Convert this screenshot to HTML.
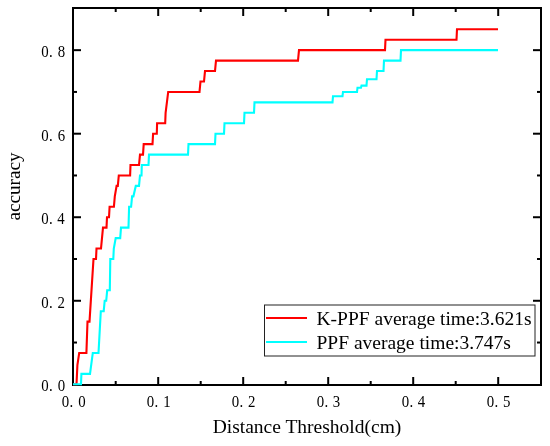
<!DOCTYPE html>
<html><head><meta charset="utf-8"><style>
html,body{margin:0;padding:0;background:#fff;}
svg{display:block;}
.t{font-family:"Liberation Serif",serif;}
</style></head><body>
<svg width="550" height="446" viewBox="0 0 550 446">
<rect x="0" y="0" width="550" height="446" fill="#fff"/>
<g stroke="#000" stroke-width="2" fill="none">
<rect x="73" y="8" width="468" height="377"/>
<line x1="158.20" y1="385.00" x2="158.20" y2="377.00"/><line x1="158.20" y1="8.00" x2="158.20" y2="16.00"/><line x1="243.20" y1="385.00" x2="243.20" y2="377.00"/><line x1="243.20" y1="8.00" x2="243.20" y2="16.00"/><line x1="328.20" y1="385.00" x2="328.20" y2="377.00"/><line x1="328.20" y1="8.00" x2="328.20" y2="16.00"/><line x1="413.20" y1="385.00" x2="413.20" y2="377.00"/><line x1="413.20" y1="8.00" x2="413.20" y2="16.00"/><line x1="498.20" y1="385.00" x2="498.20" y2="377.00"/><line x1="498.20" y1="8.00" x2="498.20" y2="16.00"/><line x1="115.70" y1="385.00" x2="115.70" y2="381.00"/><line x1="115.70" y1="8.00" x2="115.70" y2="12.00"/><line x1="200.70" y1="385.00" x2="200.70" y2="381.00"/><line x1="200.70" y1="8.00" x2="200.70" y2="12.00"/><line x1="285.70" y1="385.00" x2="285.70" y2="381.00"/><line x1="285.70" y1="8.00" x2="285.70" y2="12.00"/><line x1="370.70" y1="385.00" x2="370.70" y2="381.00"/><line x1="370.70" y1="8.00" x2="370.70" y2="12.00"/><line x1="455.70" y1="385.00" x2="455.70" y2="381.00"/><line x1="455.70" y1="8.00" x2="455.70" y2="12.00"/><line x1="73.00" y1="300.77" x2="81.00" y2="300.77"/><line x1="541.00" y1="300.77" x2="533.00" y2="300.77"/><line x1="73.00" y1="217.23" x2="81.00" y2="217.23"/><line x1="541.00" y1="217.23" x2="533.00" y2="217.23"/><line x1="73.00" y1="133.70" x2="81.00" y2="133.70"/><line x1="541.00" y1="133.70" x2="533.00" y2="133.70"/><line x1="73.00" y1="50.16" x2="81.00" y2="50.16"/><line x1="541.00" y1="50.16" x2="533.00" y2="50.16"/><line x1="73.00" y1="342.53" x2="77.00" y2="342.53"/><line x1="541.00" y1="342.53" x2="537.00" y2="342.53"/><line x1="73.00" y1="259.00" x2="77.00" y2="259.00"/><line x1="541.00" y1="259.00" x2="537.00" y2="259.00"/><line x1="73.00" y1="175.47" x2="77.00" y2="175.47"/><line x1="541.00" y1="175.47" x2="537.00" y2="175.47"/><line x1="73.00" y1="91.93" x2="77.00" y2="91.93"/><line x1="541.00" y1="91.93" x2="537.00" y2="91.93"/>
</g>
<polyline points="73,384.3 76.5,384.3 77.4,365.2 79.2,352.97 86.4,352.97 87.5,321.65 89.5,321.65 93.5,259 96,259 96.5,248.56 101,248.56 103,227.67 106.5,227.67 107,217.23 109,217.23 109.6,206.79 113.9,206.79 114.8,196.35 116.6,185.91 117.8,185.91 118.8,175.47 130.1,175.47 130.5,165.02 139,165.02 140,154.58 143,154.58 143.7,144.14 152.5,144.14 153.1,133.7 156.8,133.7 157.1,123.26 165.2,123.26 165.6,112.81 168.2,91.93 199.5,91.93 200.5,81.49 204,81.49 205,71.05 215,71.05 216,60.61 298,60.61 299,50.16 385,50.16 385.5,39.72 456.5,39.72 457,29.28 498,29.28" fill="none" stroke="#ff0000" stroke-width="2.1" stroke-linejoin="miter"/>
<polyline points="73,384.3 81,384.3 81.4,373.86 90,373.86 92.8,352.97 98.5,352.97 100.8,311.21 103.7,311.21 104.7,300.77 106.2,300.77 107.2,290.32 109.8,290.32 110.3,259 113.3,259 113.8,248.56 115.7,238.12 120.2,238.12 121,227.67 128.5,227.67 129.1,206.79 131.1,206.79 132.1,196.35 133.4,196.35 135.8,185.91 139,185.91 140,175.47 141.5,175.47 141.8,165.02 148.5,165.02 149,154.58 188,154.58 188.5,144.14 215,144.14 215.5,133.7 224,133.7 224.5,123.26 244,123.26 244.5,112.81 254,112.81 254.5,102.37 332.5,102.37 333,96.2 342.5,96.2 343,91.93 357,91.93 357.5,87.7 361,87.7 361.5,85.6 366.5,85.6 367,79.2 376.5,79.2 377,71.05 383.5,71.05 384,60.61 400.5,60.61 401,50.16 498,50.16" fill="none" stroke="#00ffff" stroke-width="2.1" stroke-linejoin="miter"/>
<g font-family="Liberation Serif, serif" font-size="16.5" fill="#000"><text transform="matrix(0.9,0,0,1,0,0)" x="68.58 77.34 86.92" y="406.70">0.0</text><text transform="matrix(0.9,0,0,1,0,0)" x="163.03 171.79 181.33" y="406.70">0.1</text><text transform="matrix(0.9,0,0,1,0,0)" x="257.47 266.23 275.64" y="406.70">0.2</text><text transform="matrix(0.9,0,0,1,0,0)" x="351.92 360.68 369.63" y="406.70">0.3</text><text transform="matrix(0.9,0,0,1,0,0)" x="446.36 455.12 464.07" y="406.70">0.4</text><text transform="matrix(0.9,0,0,1,0,0)" x="540.80 549.56 558.99" y="406.70">0.5</text><text transform="matrix(0.9,0,0,1,0,0)" x="45.80 54.56 64.14" y="391.30">0.0</text><text transform="matrix(0.9,0,0,1,0,0)" x="45.80 54.56 63.97" y="307.77">0.2</text><text transform="matrix(0.9,0,0,1,0,0)" x="45.80 54.56 63.52" y="224.23">0.4</text><text transform="matrix(0.9,0,0,1,0,0)" x="45.80 54.56 64.27" y="140.70">0.6</text><text transform="matrix(0.9,0,0,1,0,0)" x="45.80 54.56 64.14" y="57.16">0.8</text></g>
<text class="t" x="307" y="433" font-size="19.5" text-anchor="middle">Distance Threshold(cm)</text>
<text class="t" transform="translate(20,186.5) rotate(-90)" font-size="19.2" text-anchor="middle">accuracy</text>
<rect x="264.5" y="305" width="270.5" height="51" fill="#fff" stroke="#222" stroke-width="1"/>
<line x1="266" y1="318" x2="307" y2="318" stroke="#ff0000" stroke-width="2.2"/>
<line x1="266" y1="342" x2="307" y2="342" stroke="#00ffff" stroke-width="2.2"/>
<text class="t" x="316.5" y="325" font-size="19.5">K-PPF average time:3.621s</text>
<text class="t" x="316.5" y="349" font-size="19.5">PPF average time:3.747s</text>
</svg>
</body></html>
